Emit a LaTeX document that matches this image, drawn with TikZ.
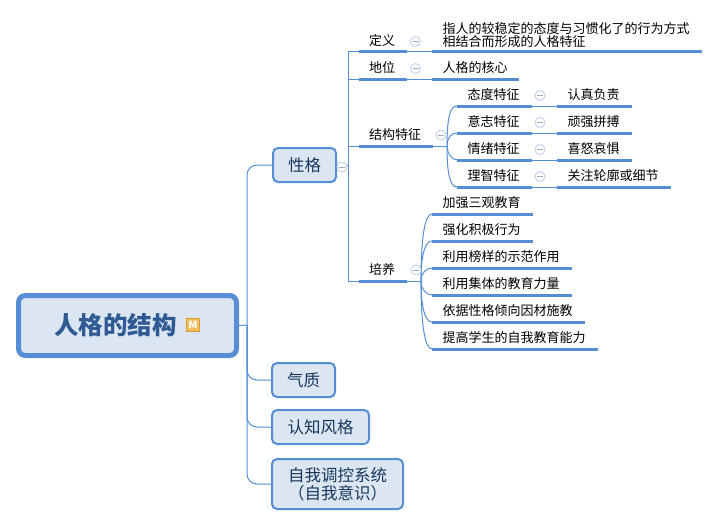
\documentclass[tikz,border=0pt]{standalone}
\usepackage{fontspec}
\usepackage{xcolor}
\setmainfont{Noto Sans CJK SC}
\definecolor{mapblue}{HTML}{558ED5}
\definecolor{mapfill}{HTML}{DCE6F2}
\definecolor{mapnavy}{HTML}{17375E}
\definecolor{maptitle}{HTML}{2F5A94}
\definecolor{mapfold}{HTML}{C6D4EE}
\definecolor{mapicon}{HTML}{D99A2B}
\definecolor{mapiconin}{HTML}{F0C060}
\begin{document}
\begin{tikzpicture}[x=1pt,y=-1pt]
	\tikzstyle{every node}+=[inner sep=0pt]
	\tikzstyle{rootbox}=[draw=mapblue,fill=mapfill,line width=5pt,rounded corners=7pt,text=maptitle,minimum width=218pt,minimum height=60pt,font=\fontsize{24.5}{24}\selectfont\bfseries]
	\tikzstyle{mainbox}=[draw=mapblue,fill=mapfill,line width=2pt,rounded corners=5pt,text=mapnavy,anchor=west,align=center,font=\fontsize{16.5}{18}\selectfont]
	\tikzstyle{topic}=[anchor=south west,minimum height=22pt,font=\fontsize{13}{13}\selectfont,execute at begin node=\hspace*{-2pt}]
	\tikzstyle{leaf}=[anchor=south west,minimum height=22pt,font=\fontsize{13}{13}\selectfont,align=left,execute at begin node=\hspace*{10.5pt}]
	\tikzstyle{uline}=[mapblue,line width=3pt]
	\tikzstyle{branch}=[mapblue,line width=1pt]
	\tikzstyle{fold}=[circle,draw=mapfold,line width=1pt,fill=white,minimum size=10pt,path picture={\draw [mapfold!80!black] ([xshift=-3pt]path picture bounding box.center) -- ([xshift=3pt]path picture bounding box.center);}]
	\useasboundingbox (0,0) rectangle (719,527);
	\node [rootbox] (root) at (127.5,325.5) {人格的结构\hspace*{24pt}};
	\node [draw=mapicon,fill=mapiconin,line width=1pt,minimum size=13pt,text=white,font=\fontsize{10}{10}\selectfont\bfseries] (mark) at (193,325) {M};
	\node [mainbox,minimum width=63pt,minimum height=34pt] (xingge) at (272,165) {性格};
	\node [mainbox,minimum width=63pt,minimum height=34pt] (qizhi) at (271,380) {气质};
	\node [mainbox,minimum width=97pt,minimum height=34pt] (renzhi) at (271,427) {认知风格};
	\node [mainbox,minimum width=131pt,minimum height=50pt] (ziwo) at (271,484) {自我调控系统\\（自我意识）};
	\coordinate (rootj) at (247,325);
	\coordinate (xinggej) at (348,165);
	\coordinate (jiegouj) at (447,146);
	\coordinate (peiyangj) at (421,281);
	\draw [branch] (root.east) -- (rootj);
	\draw [branch,rounded corners=10pt] (rootj) |- (xingge.west);
	\draw [branch,rounded corners=10pt] (rootj) |- (qizhi.west);
	\draw [branch,rounded corners=10pt] (rootj) |- (renzhi.west);
	\draw [branch,rounded corners=10pt] (rootj) |- (ziwo.west);
	\node [topic,minimum width=48pt] (dingyi) at (359,52) {定义};
	\node [topic,minimum width=48pt] (diwei) at (359,79) {地位};
	\node [topic,minimum width=74pt] (jiegou) at (359,146) {结构特征};
	\node [topic,minimum width=48pt] (peiyang) at (359,281) {培养};
	\node [leaf,text width=270pt,minimum height=34pt] (zhiren) at (432,52) {指人的较稳定的态度与习惯化了的行为方式\\\hspace*{10.5pt}相结合而形成的人格特征};
	\node [leaf,text width=87pt] (hexin) at (432,79) {人格的核心};
	\node [topic,minimum width=75pt] (taidu) at (457,106) {态度特征};
	\node [topic,minimum width=75pt] (yizhi) at (457,133) {意志特征};
	\node [topic,minimum width=75pt] (qingxu) at (457,160) {情绪特征};
	\node [topic,minimum width=75pt] (lizhi) at (457,187) {理智特征};
	\node [leaf,text width=75pt] (renzhen) at (557,106) {认真负责};
	\node [leaf,text width=75pt] (wanqiang) at (557,133) {顽强拼搏};
	\node [leaf,text width=75pt] (xinu) at (557,160) {喜怒哀惧};
	\node [leaf,text width=114pt] (guanzhu) at (557,187) {关注轮廓或细节};
	\node [leaf,text width=101pt] (sanguan) at (432,214) {加强三观教育};
	\node [leaf,text width=101pt] (jiji) at (432,241) {强化积极行为};
	\node [leaf,text width=140pt] (bangyang) at (432,268) {利用榜样的示范作用};
	\node [leaf,text width=140pt] (jiti) at (432,295) {利用集体的教育力量};
	\node [leaf,text width=153pt] (yinju) at (432,322) {依据性格倾向因材施教};
	\node [leaf,text width=166pt] (tigao) at (432,349) {提高学生的自我教育能力};
	\draw [branch] (xingge.east) -- (xinggej);
	\draw [branch] (xinggej) |- (dingyi.south west);
	\draw [branch] (xinggej) |- (diwei.south west);
	\draw [branch] (xinggej) |- (jiegou.south west);
	\draw [branch] (xinggej) |- (peiyang.south west);
	\draw [branch] (dingyi.south east) -- (zhiren.south west);
	\draw [branch] (diwei.south east) -- (hexin.south west);
	\draw [branch] (jiegou.south east) -- (jiegouj);
	\draw [branch] (peiyang.south east) -- (peiyangj);
	\draw [branch] (jiegouj) .. controls +(0,-28) and +(-7,0) .. (taidu.south west);
	\draw [branch] (jiegouj) .. controls +(0,-9) and +(-5,0) .. (yizhi.south west);
	\draw [branch] (jiegouj) .. controls +(0,7) and +(-5,0) .. (qingxu.south west);
	\draw [branch] (jiegouj) .. controls +(0,28) and +(-7,0) .. (lizhi.south west);
	\draw [branch] (taidu.south east) -- (renzhen.south west);
	\draw [branch] (yizhi.south east) -- (wanqiang.south west);
	\draw [branch] (qingxu.south east) -- (xinu.south west);
	\draw [branch] (lizhi.south east) -- (guanzhu.south west);
	\draw [branch] (peiyangj) .. controls +(0,-45) and +(-7,0) .. (sanguan.south west);
	\draw [branch] (peiyangj) .. controls +(0,-26) and +(-7,0) .. (jiji.south west);
	\draw [branch] (peiyangj) .. controls +(0,-9) and +(-5,0) .. (bangyang.south west);
	\draw [branch] (peiyangj) .. controls +(0,9) and +(-5,0) .. (jiti.south west);
	\draw [branch] (peiyangj) .. controls +(0,26) and +(-7,0) .. (yinju.south west);
	\draw [branch] (peiyangj) .. controls +(0,45) and +(-7,0) .. (tigao.south west);
	\draw [uline] (dingyi.south west) -- (dingyi.south east);
	\draw [uline] (diwei.south west) -- (diwei.south east);
	\draw [uline] (jiegou.south west) -- (jiegou.south east);
	\draw [uline] (peiyang.south west) -- (peiyang.south east);
	\draw [uline] (zhiren.south west) -- (zhiren.south east);
	\draw [uline] (hexin.south west) -- (hexin.south east);
	\draw [uline] (taidu.south west) -- (taidu.south east);
	\draw [uline] (yizhi.south west) -- (yizhi.south east);
	\draw [uline] (qingxu.south west) -- (qingxu.south east);
	\draw [uline] (lizhi.south west) -- (lizhi.south east);
	\draw [uline] (renzhen.south west) -- (renzhen.south east);
	\draw [uline] (wanqiang.south west) -- (wanqiang.south east);
	\draw [uline] (xinu.south west) -- (xinu.south east);
	\draw [uline] (guanzhu.south west) -- (guanzhu.south east);
	\draw [uline] (sanguan.south west) -- (sanguan.south east);
	\draw [uline] (jiji.south west) -- (jiji.south east);
	\draw [uline] (bangyang.south west) -- (bangyang.south east);
	\draw [uline] (jiti.south west) -- (jiti.south east);
	\draw [uline] (yinju.south west) -- (yinju.south east);
	\draw [uline] (tigao.south west) -- (tigao.south east);
	\node [fold] (foldxingge) at (342,167) {};
	\node [fold] (folddingyi) at (415.5,41.5) {};
	\node [fold] (folddiwei) at (415.5,68.5) {};
	\node [fold] (foldjiegou) at (441,135) {};
	\node [fold] (foldpeiyang) at (416,270) {};
	\node [fold] (foldtaidu) at (540,95.5) {};
	\node [fold] (foldyizhi) at (540,122.5) {};
	\node [fold] (foldqingxu) at (540,149.5) {};
	\node [fold] (foldlizhi) at (540,176.5) {};
\end{tikzpicture}
\end{document}
